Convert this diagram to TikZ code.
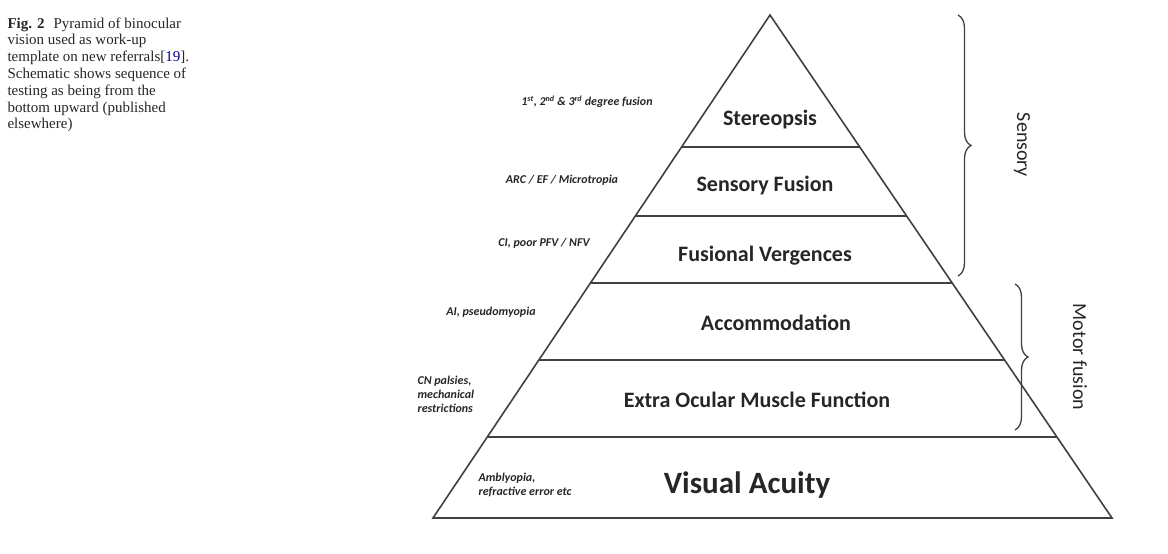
\documentclass[tikz,border=0pt]{standalone}
\usepackage{fontspec}
\setmainfont{Liberation Serif}
\newfontfamily\calfont{Carlito}
\usetikzlibrary{decorations.pathreplacing}
\begin{document}
\begin{tikzpicture}[x=1pt,y=-1pt,
  lvl/.style={font=\calfont\bfseries\fontsize{22}{24}\selectfont,text=black!85},
  note/.style={font=\calfont\bfseries\itshape\fontsize{12}{14}\selectfont,text=black!85,align=left},
  pl/.style={line width=1.6pt,black!75},
  br/.style={decorate,decoration={brace,amplitude=13pt},line width=1.3pt,black!75},
  side/.style={font=\calfont\fontsize{20}{22}\selectfont,rotate=-90,text=black!85}]
\useasboundingbox (0,0) rectangle (1168,554);
\coordinate (A) at (770,15);
\coordinate (L) at (433,518);
\coordinate (R) at (1112,518);
\draw[pl,line join=miter] (A) -- (L) -- (R) -- cycle;
\foreach \y in {147,216,283,360,437}{
  \draw[pl] ({770-(\y-15)/503*337},\y) -- ({770+(\y-15)/503*342},\y);}
\node[lvl] (s1) at (770,120) {Stereopsis};
\node[lvl] (s2) at (765,186) {Sensory Fusion};
\node[lvl] (s3) at (765,256) {Fusional Vergences};
\node[lvl] (s4) at (776,323) {Accommodation};
\node[lvl] (s5) at (757,400) {Extra Ocular Muscle Function};
\node[lvl,font=\calfont\bfseries\fontsize{31}{33}\selectfont] (s6) at (747,485) {Visual Acuity};
\node[note] (n1) at (587,102) {1\textsuperscript{st}, 2\textsuperscript{nd} \& 3\textsuperscript{rd} degree fusion};
\node[note] (n2) at (562,180) {ARC / EF / Microtropia};
\node[note] (n3) at (544,243) {CI, poor PFV / NFV};
\node[note] (n4) at (491,312) {AI, pseudomyopia};
\node[note,anchor=west] (n5) at (414,394) {CN palsies,\\mechanical\\restrictions};
\node[note,anchor=west] (n6) at (475,485) {Amblyopia,\\refractive error etc};
\coordinate (b1) at (958,15);
\coordinate (b2) at (958,276);
\draw[br] (b1) -- (b2);
\coordinate (b3) at (1015,284);
\coordinate (b4) at (1015,430);
\draw[br] (b3) -- (b4);
\node[side] (sen) at (1022,145) {Sensory};
\node[side] (mot) at (1080,357) {Motor fusion};
\node[anchor=north west,align=left,font=\fontsize{15}{16.8}\selectfont,text=black!85] (cap) at (4,14)
{\textbf{Fig. 2}\hspace{0.6em}Pyramid of binocular\\vision used as work-up\\template on new referrals[\textcolor{blue!60!black}{19}].\\Schematic shows sequence of\\testing as being from the\\bottom upward (published\\elsewhere)};
\end{tikzpicture}
\end{document}
